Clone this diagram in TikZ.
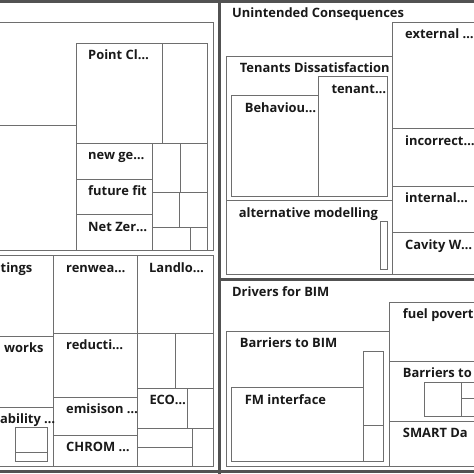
\documentclass[tikz,border=0pt]{standalone}
\usepackage{fontspec}
\usepackage{xcolor}
\usepackage{tikz}
\newfontfamily\lblfont{Open Sans}
\definecolor{ln}{RGB}{110,110,110}
\definecolor{dk}{RGB}{82,82,82}
\definecolor{tx}{RGB}{25,25,25}
\newcommand{\TX}[1]{\textcolor{tx}{#1}}

\begin{document}
\begin{tikzpicture}[x=1pt,y=-1pt,
  box/.style={draw=ln,line width=0.9pt},
  bar/.style={draw=dk,line width=3pt},
  lbl/.style={anchor=base west,inner sep=0pt,font=\lblfont\bfseries\fontsize{12.9}{15}\selectfont}]
  \useasboundingbox[fill=white] (0,0) rectangle (474,474);
  \clip (0,0) rectangle (474,474);

  % left column, upper block
  \draw[box] (-10,22) rectangle (213,250);
  \draw[box] (-10,125) -- (76,125);
  \draw[box] (76,43) rectangle (162,143);
  \draw[box] (162,43) rectangle (207,143);
  \draw[box] (76,143) rectangle (152,179);
  \draw[box] (76,179) rectangle (152,214);
  \draw[box] (76,214) rectangle (152,250);
  \draw[box] (152,143) rectangle (180,192);
  \draw[box] (180,143) rectangle (207,192);
  \draw[box] (152,192) rectangle (179,227);
  \draw[box] (179,192) rectangle (207,227);
  \draw[box] (152,227) rectangle (190,250);
  \draw[box] (190,227) rectangle (207,250);

  \node[lbl] (ptcl) at (88,59.3) {\TX{Point Cl…}};
  \node[lbl] (newge) at (88,159.3) {\TX{new ge…}};
  \node[lbl] (futfit) at (88,195) {\TX{future fit}};
  \node[lbl] (netzer) at (88,231.7) {\TX{Net Zer…}};

  % left column, lower block
  \draw[box] (-10,255) rectangle (213,466);
  \draw[box] (53,255) -- (53,466);
  \draw[box] (-10,336) -- (53,336);
  \draw[box] (-10,407) -- (53,407);
  \draw[box] (15.7,427.7) rectangle (47.7,461);
  \draw[box] (15.7,452.7) -- (47.7,452.7);
  \draw[box] (137,255) -- (137,466);
  \draw[box] (53,333) -- (213,333);
  \draw[box] (53,397) -- (137,397);
  \draw[box] (53,435) -- (137,435);
  \draw[box] (175.7,333) -- (175.7,388);
  \draw[box] (137,388) -- (213,388);
  \draw[box] (187.7,388) -- (187.7,428);
  \draw[box] (137,428) -- (213,428);
  \draw[box] (192.3,428) -- (192.3,466);
  \draw[box] (137,447.7) -- (192.3,447.7);

  \node[lbl] (tings) at (0.5,272.3) {\TX{tings}};
  \node[lbl] (works) at (4,352.3) {\TX{works}};
  \node[lbl] (abil) at (0,423.7) {\TX{ability …}};
  \node[lbl] (renw) at (66,272.3) {\TX{renwea…}};
  \node[lbl] (reduc) at (66,349.7) {\TX{reducti…}};
  \node[lbl] (emis) at (66,413.7) {\TX{emisison …}};
  \node[lbl] (chrom) at (66,451.3) {\TX{CHROM …}};
  \node[lbl] (landlo) at (149,272.3) {\TX{Landlo…}};
  \node[lbl] (eco) at (149.3,404) {\TX{ECO…}};

  % right column, upper panel
  \node[lbl] (uncons) at (232,17.5) {\TX{Unintended Consequences}};
  \draw[box] (226,56) rectangle (392,200);
  \draw[box] (231.7,95) rectangle (318.7,196);
  \draw[box] (318.7,76.7) rectangle (387.3,196);
  \draw[box] (226,200) rectangle (392,274.7);
  \draw[box] (380.5,221.7) rectangle (387.2,269.3);
  \draw[box] (392.5,22.3) rectangle (490,128.3);
  \draw[box] (392.5,128.3) rectangle (490,186);
  \draw[box] (392.5,186) rectangle (490,232.5);
  \draw[box] (392.5,232.5) rectangle (490,274.7);

  \node[lbl] (tenant) at (239.7,72) {\TX{Tenants Dissatisfaction}};
  \node[lbl] (tnt) at (331.3,93.3) {\TX{tenant…}};
  \node[lbl] (behav) at (244.7,112) {\TX{Behaviou…}};
  \node[lbl] (altmod) at (238.7,217.3) {\TX{alternative modelling}};
  \node[lbl] (extern) at (405,38.3) {\TX{external …}};
  \node[lbl] (incorr) at (405,145) {\TX{incorrect…}};
  \node[lbl] (intern) at (405,202.7) {\TX{internal…}};
  \node[lbl] (cavity) at (405,249.7) {\TX{Cavity W…}};

  % right column, lower panel
  \node[lbl] (drivers) at (232,296) {\TX{Drivers for BIM}};
  \draw[box] (226,331) rectangle (389.3,466);
  \draw[box] (231,387.7) rectangle (363.7,461);
  \draw[box] (363.7,351.3) rectangle (383.7,461);
  \draw[box] (363.7,425.3) -- (383.7,425.3);
  \draw[box] (389.3,302) rectangle (490,361.3);
  \draw[box] (389.3,361.3) rectangle (490,421);
  \draw[box] (424.7,382) rectangle (461.3,416);
  \draw[box] (461.3,382) rectangle (490,398.7);
  \draw[box] (461.3,398.7) rectangle (490,416);
  \draw[box] (389.3,421) rectangle (490,466);

  \node[lbl] (barbim) at (239.7,347.7) {\TX{Barriers to BIM}};
  \node[lbl] (fmint) at (244.7,404.3) {\TX{FM interface}};
  \node[lbl] (fuel) at (402.7,318) {\TX{fuel povert}};
  \node[lbl] (barto) at (402.7,377.7) {\TX{Barriers to}};
  \node[lbl] (smart) at (402.7,437.7) {\TX{SMART Da}};

  % dividers
  \draw[bar] (-10,1.2) -- (490,1.2);
  \draw[bar] (-10,471) -- (490,471);
  \draw[bar] (219.5,0) -- (219.5,474);
  \draw[bar] (219.5,279.3) -- (490,279.3);
\end{tikzpicture}
\end{document}
